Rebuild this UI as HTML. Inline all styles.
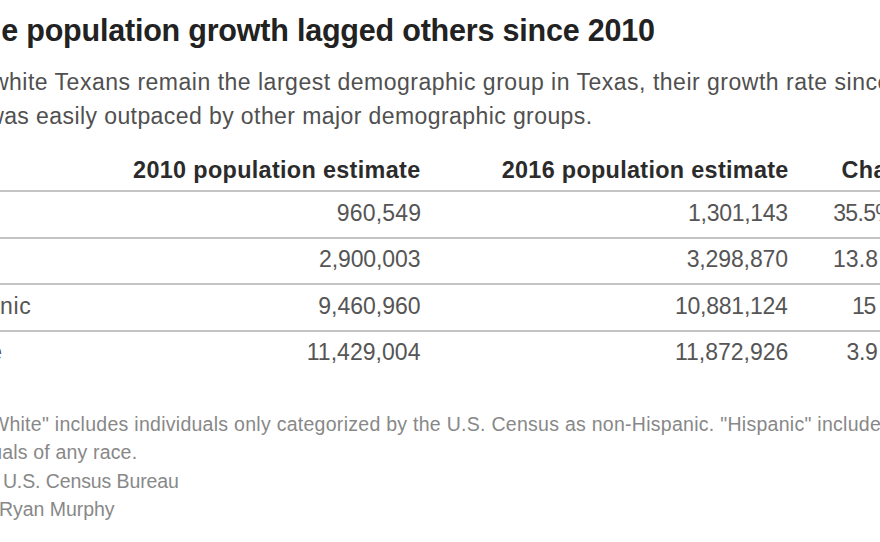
<!DOCTYPE html>
<html><head><meta charset="utf-8"><title>White population growth lagged others since 2010</title>
<style>
html,body{margin:0;padding:0;background:#fff;width:880px;height:542px;overflow:hidden}
#w{position:relative;width:880px;height:542px;overflow:hidden;contain:paint}
.x{position:absolute;white-space:nowrap;font-family:'Liberation Sans', Arial, sans-serif}
.r{position:absolute;left:0;width:880px;height:2px;background:#c4c4c4}
</style></head><body><div id="w">
<div class="r" style="top:189.9px"></div><div class="r" style="top:236.9px"></div><div class="r" style="top:283.2px"></div><div class="r" style="top:330.0px"></div>
<div class="x" style="left:-64.0px;top:8.7px;font-weight:700;font-size:30.5px;line-height:43px;letter-spacing:-0.209px;color:#222"><span style="position:relative;left:-4px">Whit</span>e population growth lagged others since 2010</div>
<div class="x" style="left:-75.0px;top:65.5px;font-weight:400;font-size:23.0px;line-height:32px;letter-spacing:0.504px;color:#505050">While white Texans remain the largest demographic group in Texas, their growth rate since</div>
<div class="x" style="left:-72.5px;top:99.6px;font-weight:400;font-size:23.0px;line-height:32px;letter-spacing:0.415px;color:#505050">2010 was easily outpaced by other major demographic groups.</div>
<div class="x" style="left:133.1px;top:153.8px;font-weight:700;font-size:23.4px;line-height:33px;letter-spacing:0.33px;color:#2b2b2b">2010 population estimate</div>
<div class="x" style="left:501.7px;top:153.8px;font-weight:700;font-size:23.4px;line-height:33px;letter-spacing:0.313px;color:#2b2b2b">2016 population estimate</div>
<div class="x" style="left:841.6px;top:153.8px;font-weight:700;font-size:23.4px;line-height:33px;letter-spacing:0.32px;color:#2b2b2b">Change</div>
<div class="x" style="left:336.8px;top:196.7px;font-weight:400;font-size:23.0px;line-height:32px;letter-spacing:0.167px;color:#555">960,549</div>
<div class="x" style="left:688.0px;top:196.7px;font-weight:400;font-size:23.0px;line-height:32px;letter-spacing:-0.275px;color:#555">1,301,143</div>
<div class="x" style="left:319.0px;top:243.2px;font-weight:400;font-size:23.0px;line-height:32px;letter-spacing:-0.1px;color:#555">2,900,003</div>
<div class="x" style="left:686.7px;top:243.2px;font-weight:400;font-size:23.0px;line-height:32px;letter-spacing:-0.125px;color:#555">3,298,870</div>
<div class="x" style="left:318.3px;top:289.7px;font-weight:400;font-size:23.0px;line-height:32px;letter-spacing:0.0px;color:#555">9,460,960</div>
<div class="x" style="left:675.0px;top:289.7px;font-weight:400;font-size:23.0px;line-height:32px;letter-spacing:-0.244px;color:#555">10,881,124</div>
<div class="x" style="left:306.7px;top:336.3px;font-weight:400;font-size:23.0px;line-height:32px;letter-spacing:0.044px;color:#555">11,429,004</div>
<div class="x" style="left:675.0px;top:336.3px;font-weight:400;font-size:23.0px;line-height:32px;letter-spacing:-0.022px;color:#555">11,872,926</div>
<div class="x" style="left:833.2px;top:196.7px;font-weight:400;font-size:23.0px;line-height:32px;letter-spacing:-0.667px;color:#555">35.5%</div>
<div class="x" style="left:833.0px;top:243.2px;font-weight:400;font-size:23.0px;line-height:32px;letter-spacing:0.067px;color:#555">13.8</div>
<div class="x" style="left:852.0px;top:289.7px;font-weight:400;font-size:23.0px;line-height:32px;letter-spacing:-1.2px;color:#555">15</div>
<div class="x" style="left:846.4px;top:336.3px;font-weight:400;font-size:23.0px;line-height:32px;letter-spacing:-0.3px;color:#555">3.9</div>
<div class="x" style="left:-62.0px;top:196.7px;font-weight:400;font-size:23.0px;line-height:32px;letter-spacing:0.7px;color:#555">Asian</div>
<div class="x" style="left:-71.0px;top:243.2px;font-weight:400;font-size:23.0px;line-height:32px;letter-spacing:0.7px;color:#555">Black</div>
<div class="x" style="left:-62.4px;top:289.7px;font-weight:400;font-size:23.0px;line-height:32px;letter-spacing:0.7px;color:#555">Hispanic</div>
<div class="x" style="left:-59.5px;top:336.3px;font-weight:400;font-size:23.0px;line-height:32px;letter-spacing:0.7px;color:#555">White</div>
<div class="x" style="left:-70.2px;top:410.8px;font-weight:400;font-size:19.5px;line-height:27px;letter-spacing:0.277px;color:#888">Note: "White" includes individuals only categorized by the U.S. Census as non-Hispanic. "Hispanic" includes</div>
<div class="x" style="left:-65.3px;top:439.0px;font-weight:400;font-size:19.5px;line-height:27px;letter-spacing:0.173px;color:#888">individuals of any race.</div>
<div class="x" style="left:-68.9px;top:467.7px;font-weight:400;font-size:19.5px;line-height:27px;letter-spacing:-0.106px;color:#888">Source: U.S. Census Bureau</div>
<div class="x" style="left:-63.5px;top:496.4px;font-weight:400;font-size:19.5px;line-height:27px;letter-spacing:-0.04px;color:#888">Credit: Ryan Murphy</div>
</div></body></html>
